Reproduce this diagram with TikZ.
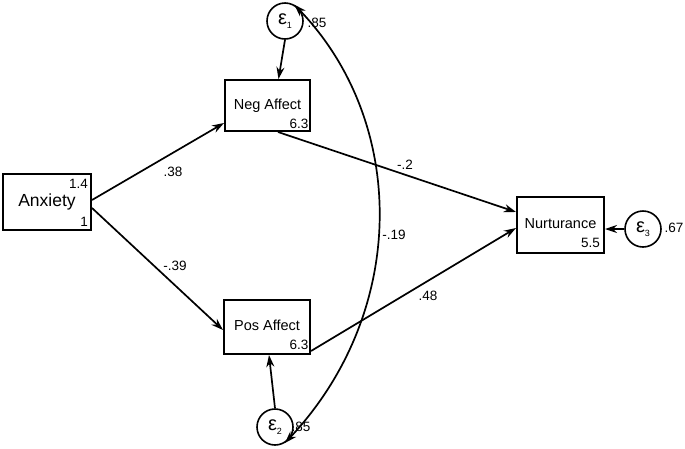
\documentclass[tikz,border=0pt]{standalone}
\usepackage{fontspec}
\setmainfont{Liberation Sans}
\usetikzlibrary{arrows.meta}
\begin{document}
\begin{tikzpicture}[x=1pt,y=-1pt,
  box/.style={draw,line width=2pt,inner sep=0pt},
  err/.style={draw,circle,line width=1.6pt,minimum size=36pt,inner sep=0pt,font=\fontsize{20}{20}\selectfont},
  num/.style={inner sep=0pt,font=\fontsize{13.5}{13.5}\selectfont},
  lab/.style={inner sep=0pt,font=\fontsize{13.5}{13.5}\selectfont},
  path/.style={line width=1.7pt,-{Stealth[length=12pt,width=8pt]}},
  cov/.style={line width=1.7pt,{Stealth[length=12pt,width=8pt]}-{Stealth[length=12pt,width=8pt]}}]
\useasboundingbox (0,0) rectangle (685,448);
% boxes
\node[box,minimum width=88pt,minimum height=56pt,font=\fontsize{17.5}{17.5}\selectfont] (ax) at (47,202) {\raisebox{-3pt}{Anxiety}};
\node[box,minimum width=85pt,minimum height=51pt,font=\fontsize{14.5}{14.5}\selectfont] (neg) at (267.5,105.5) {\raisebox{2pt}{Neg Affect}};
\node[box,minimum width=86pt,minimum height=54pt,font=\fontsize{14.5}{14.5}\selectfont] (pos) at (267,327) {\raisebox{4pt}{Pos Affect}};
\node[box,minimum width=87pt,minimum height=56pt,font=\fontsize{14.5}{14.5}\selectfont] (nur) at (560.5,225) {\raisebox{3pt}{Nurturance}};
% numbers in boxes
\node[num,anchor=north east] (axv) at ([xshift=-4pt,yshift=-6.5pt]ax.north east) {1.4};
\node[num,anchor=base east] (axc) at ([xshift=-4pt,yshift=5pt]ax.south east) {1};
\node[num,anchor=base east] (negc) at ([xshift=-2.5pt,yshift=3.5pt]neg.south east) {6.3};
\node[num,anchor=base east] (posc) at ([xshift=-2.5pt,yshift=6pt]pos.south east) {6.3};
\node[num,anchor=base east] (nurc) at ([xshift=-5pt,yshift=7pt]nur.south east) {5.5};
% error terms
\node[err] (e1) at (285,21) {ε\raisebox{-4pt}{\fontsize{9}{9}\selectfont 1}};
\node[err] (e2) at (275,427) {ε\raisebox{-4pt}{\fontsize{9}{9}\selectfont 2}};
\node[err] (e3) at (643,229) {ε\raisebox{-4pt}{\fontsize{9}{9}\selectfont 3}};
\node[num] (e1v) at (317,23) {.85};
\node[num] (e2v) at (301,427) {.85};
\node[num] (e3v) at (674,228) {.67};
% structural paths
\draw[path] ([yshift=2pt]ax.east) -- ([yshift=9pt]neg.south west);
\draw[path] ([yshift=-6pt]ax.east) -- ([yshift=-3pt]pos.west);
\draw[path] ([xshift=-33pt]neg.south east) -- ([yshift=13pt]nur.west);
\draw[path] ([yshift=4pt]pos.south east) -- ([yshift=-3pt]nur.west);
\draw[path] (e1.south) -- ([xshift=11pt]neg.north);
\draw[path] (e2.north) -- ([xshift=2pt]pos.south);
\draw[path] (e3.west) -- (e3.west -| nur.east);
% covariance
\draw[cov] (e1.60) .. controls (408,123) and (408,312) .. (e2.-58);
% coefficient labels
\node[lab] (l1) at (173,172) {.38};
\node[lab] (l2) at (175,266) {-.39};
\node[lab] (l3) at (405,165) {-.2};
\node[lab] (l4) at (428,296) {.48};
\node[lab] (l5) at (394,235) {-.19};
\end{tikzpicture}
\end{document}
